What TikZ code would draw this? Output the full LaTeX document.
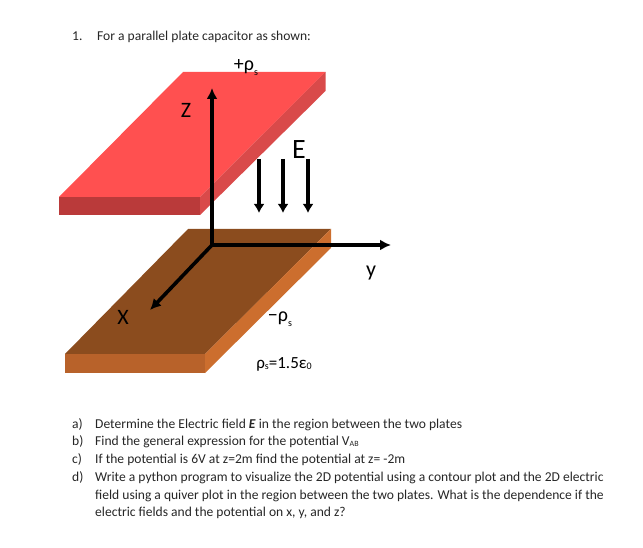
\documentclass[tikz,border=0pt]{standalone}
\usepackage{fontspec}
\setmainfont{Carlito}
\definecolor{redtop}{HTML}{FF5050}
\definecolor{redside}{HTML}{D94A4A}
\definecolor{redfront}{HTML}{BA3A3A}
\definecolor{browntop}{HTML}{8B4C1E}
\definecolor{brownside}{HTML}{CC6E2E}
\definecolor{brownfront}{HTML}{B8622A}
\tikzset{
  axis/.style={line width=3.6pt,-{Latex[length=11pt,width=11pt]}},
  fieldline/.style={line width=3.2pt,-{Latex[length=9pt,width=11pt]}},
  axislabel/.style={anchor=center,font=\fontsize{22}{22}\selectfont},
  question/.style={anchor=base west,inner sep=0pt,font=\fontsize{13.55}{15}\selectfont,text=black!85},
}
\usetikzlibrary{arrows.meta}
\begin{document}
\begin{tikzpicture}[x=1pt,y=-1pt]
  \useasboundingbox (0,0) rectangle (643,548);
  % top plate
  \fill[redtop] (183,72) -- (325.5,72) -- (200,197) -- (59,197) -- cycle;
  \fill[redfront] (59,197) -- (200,197) -- (200,215) -- (59,215) -- cycle;
  \fill[redside] (200,197) -- (325.5,72) -- (325.5,91) -- (200,215) -- cycle;
  % bottom plate
  \fill[browntop] (188,229) -- (331,229) -- (205,354) -- (65,354) -- cycle;
  \fill[brownfront] (65,354) -- (205,354) -- (205,373) -- (65,373) -- cycle;
  \fill[brownside] (205,354) -- (331,229) -- (331,248) -- (205,373) -- cycle;
  % axes
  \coordinate (origin) at (212,245);
  \coordinate (ztip) at (212,88);
  \coordinate (ytip) at (391,245);
  \coordinate (xtip) at (150,310);
  \draw[axis] (origin) -- (ztip);
  \draw[axis] (origin) -- (ytip);
  \draw[axis] (origin) -- (xtip);
  \node[axislabel] at (186,110) (zlabel) {Z};
  \node[axislabel] at (371,273) (ylabel) {y};
  \node[axislabel] at (123,317) (xlabel) {X};
  \node[axislabel,font=\fontsize{28}{28}\selectfont] at (299,150) (elabel) {E};
  % field
  \foreach \i/\xpos in {1/259,2/283,3/308} {
    \coordinate (etop\i) at (\xpos,159);
    \coordinate (ebot\i) at (\xpos,213);
    \draw[fieldline] (etop\i) -- (ebot\i);
  }
  % charges
  \node[anchor=center,font=\fontsize{20}{20}\selectfont] at (246,68) (plus) {+ρ\raisebox{-5pt}{\fontsize{10}{10}\selectfont s}};
  \node[anchor=center,font=\fontsize{20}{20}\selectfont] at (280,319) (minus) {−ρ\raisebox{-5pt}{\fontsize{10}{10}\selectfont s}};
  \node[anchor=center,font=\fontsize{17}{17}\selectfont] at (284,364) (rho) {ρ\raisebox{-1pt}{\fontsize{10}{10}\selectfont s}=1.5ε\raisebox{-1pt}{\fontsize{10}{10}\selectfont 0}};
  % text
  \node[question] at (72,41) (num) {1.};
  \node[question] at (97,41) (intro) {For a parallel plate capacitor as shown:};
  \node[question] at (72,428) (la) {a)};
  \node[question] at (95,428) (qa) {Determine the Electric field \textbf{\textit{E}} in the region between the two plates};
  \node[question] at (72,445) (lb) {b)};
  \node[question] at (95,445) (qb) {Find the general expression for the potential V\raisebox{-1pt}{\fontsize{8}{8}\selectfont AB}};
  \node[question] at (72,463) (lc) {c)};
  \node[question] at (95,463) (qc) {If the potential is 6V at z=2m find the potential at z= -2m};
  \node[question] at (72,481) (ld) {d)};
  \node[question] at (95,481) (qd) {Write a python program to visualize the 2D potential using a contour plot and the 2D electric};
  \node[question] at (95,499) (qe) {field using a quiver plot in the region between the two plates. What is the dependence if the};
  \node[question] at (95,516) (qf) {electric fields and the potential on x, y, and z?};
\end{tikzpicture}
\end{document}
